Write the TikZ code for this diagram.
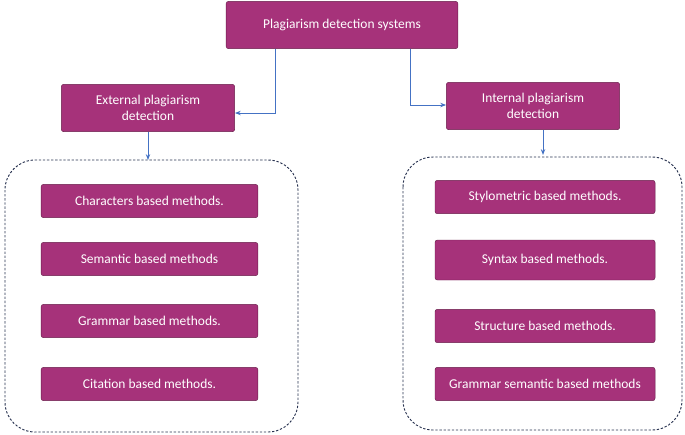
\documentclass[tikz,border=0pt]{standalone}
\usepackage{fontspec}
\setmainfont{Carlito}
\usetikzlibrary{positioning,arrows.meta}
\definecolor{boxfill}{RGB}{166,50,122}
\definecolor{boxline}{RGB}{105,30,75}
\definecolor{arrowblue}{RGB}{68,114,196}
\definecolor{dashline}{RGB}{40,50,80}
\tikzset{
  method/.style={draw=boxline,fill=boxfill,text=white,rounded corners=2pt,
    minimum width=6.5cm,minimum height=1.0cm,font=\fontsize{11.5}{14}\selectfont},
  head/.style={method,minimum width=5.2cm,minimum height=1.42cm,align=center},
  group/.style={draw=dashline,dash pattern=on 2pt off 1.5pt,rounded corners=0.9cm,thick},
  link/.style={draw=arrowblue,thick,-{Stealth[length=5pt]}}
}
\begin{document}
\begin{tikzpicture}[x=0.03cm,y=-0.03cm]
  \useasboundingbox (0,0) rectangle (685,434);
  \node[head,minimum width=6.95cm] (sys) at (342,25) {Plagiarism detection systems};
  \node[head] (ext) at (148,108) {External plagiarism\\detection};
  \node[head] (int) at (533,106) {Internal plagiarism\\detection};
  \draw[group] (5,160) rectangle (298,432);
  \draw[group] (403,157) rectangle (682,430);
  \coordinate (extin) at (148,160);
  \coordinate (intin) at (543,155);
  % external methods
  \node[method] (c) at (149.5,201) {Characters based methods.};
  \node[method] (s) at (149.5,259) {Semantic based methods};
  \node[method] (g) at (149.5,321) {Grammar based methods.};
  \node[method] (ci) at (149.5,384) {Citation based methods.};
  % internal methods
  \node[method,minimum width=6.6cm] (st) at (545,197) {Stylometric based methods.};
  \node[method,minimum width=6.6cm,minimum height=1.2cm] (sy) at (545,260) {Syntax based methods.};
  \node[method,minimum width=6.6cm] (str) at (545,326) {Structure based methods.};
  \node[method,minimum width=6.6cm] (gs) at (545,384) {Grammar semantic based methods};
  % links
  \draw[link] (sys.south -| 275,0) |- (ext.east |- 0,113);
  \draw[link] (sys.south -| 410,0) |- (int.west |- 0,105);
  \draw[link] (ext.south) -- (extin);
  \draw[link] (int.south -| intin) -- (intin);
\end{tikzpicture}
\end{document}
